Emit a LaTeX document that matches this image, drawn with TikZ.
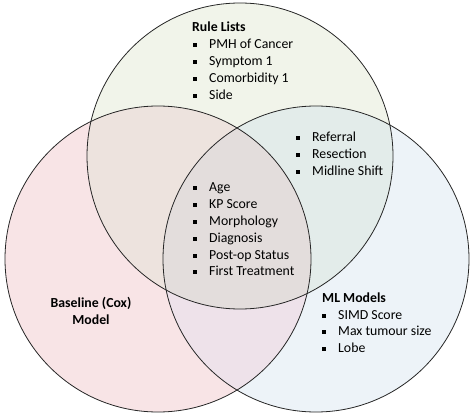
\documentclass[tikz,border=0pt]{standalone}
\usepackage{fontspec}
\setmainfont{Carlito}
\definecolor{cTop}{HTML}{F1F4EA}
\definecolor{cLeft}{HTML}{F8E4E6}
\definecolor{cRight}{HTML}{EDF3F8}
\definecolor{cLT}{HTML}{EDE3DE}
\definecolor{cTR}{HTML}{E3ECEA}
\definecolor{cLR}{HTML}{EEE2EA}
\definecolor{cAll}{HTML}{E3DDDC}
\tikzset{
  item/.style={anchor=west,inner sep=0pt,text height=10pt,text depth=3pt,font=\fontsize{13.8}{16.7}\selectfont},
  head/.style={item,font=\fontsize{13.8}{16.7}\selectfont\bfseries},
  ring/.style={draw=black!85,line width=0.8pt}
}
\newcommand{\sqb}{\makebox[16pt][l]{\rule[1.8pt]{3.8pt}{3.8pt}}}
\begin{document}
\begin{tikzpicture}[x=1pt,y=-1pt]
\useasboundingbox (0,0) rectangle (474,420);
\def\R{153pt}
\coordinate (ct) at (240,156);
\coordinate (cl) at (158,259);
\coordinate (cr) at (316,259);
\fill[cTop] (ct) circle (\R);
\fill[cLeft] (cl) circle (\R);
\fill[cRight] (cr) circle (\R);
\begin{scope}\clip (ct) circle (\R); \fill[cLT] (cl) circle (\R);\end{scope}
\begin{scope}\clip (ct) circle (\R); \fill[cTR] (cr) circle (\R);\end{scope}
\begin{scope}\clip (cl) circle (\R); \fill[cLR] (cr) circle (\R);\end{scope}
\begin{scope}\clip (ct) circle (\R); \clip (cl) circle (\R); \fill[cAll] (cr) circle (\R);\end{scope}
\draw[ring] (ct) circle (\R);
\draw[ring] (cl) circle (\R);
\draw[ring] (cr) circle (\R);
% Rule lists
\node[head] (rl) at (192,28) {Rule Lists};
\node[item] (rl1) at (193,45) {\sqb PMH of Cancer};
\node[item] (rl2) at (193,62) {\sqb Symptom 1};
\node[item] (rl3) at (193,79) {\sqb Comorbidity 1};
\node[item] (rl4) at (193,96) {\sqb Side};
% top-right overlap
\node[item] (tr1) at (296,138) {\sqb Referral};
\node[item] (tr2) at (296,155) {\sqb Resection};
\node[item] (tr3) at (296,172) {\sqb Midline Shift};
% centre
\node[item] (c1) at (193,188) {\sqb Age};
\node[item] (c2) at (193,205) {\sqb KP Score};
\node[item] (c3) at (193,222) {\sqb Morphology};
\node[item] (c4) at (193,239) {\sqb Diagnosis};
\node[item] (c5) at (193,256) {\sqb Post-op Status};
\node[item] (c6) at (193,272) {\sqb First Treatment};
% ML models
\node[head] (ml) at (322,299) {ML Models};
\node[item] (ml1) at (322,316) {\sqb SIMD Score};
\node[item] (ml2) at (322,332) {\sqb Max tumour size};
\node[item] (ml3) at (322,349) {\sqb Lobe};
% baseline
\node[align=center,inner sep=0pt,font=\fontsize{13.8}{16.7}\selectfont\bfseries] (bl) at (91,311) {Baseline (Cox)\\Model};
\end{tikzpicture}
\end{document}
